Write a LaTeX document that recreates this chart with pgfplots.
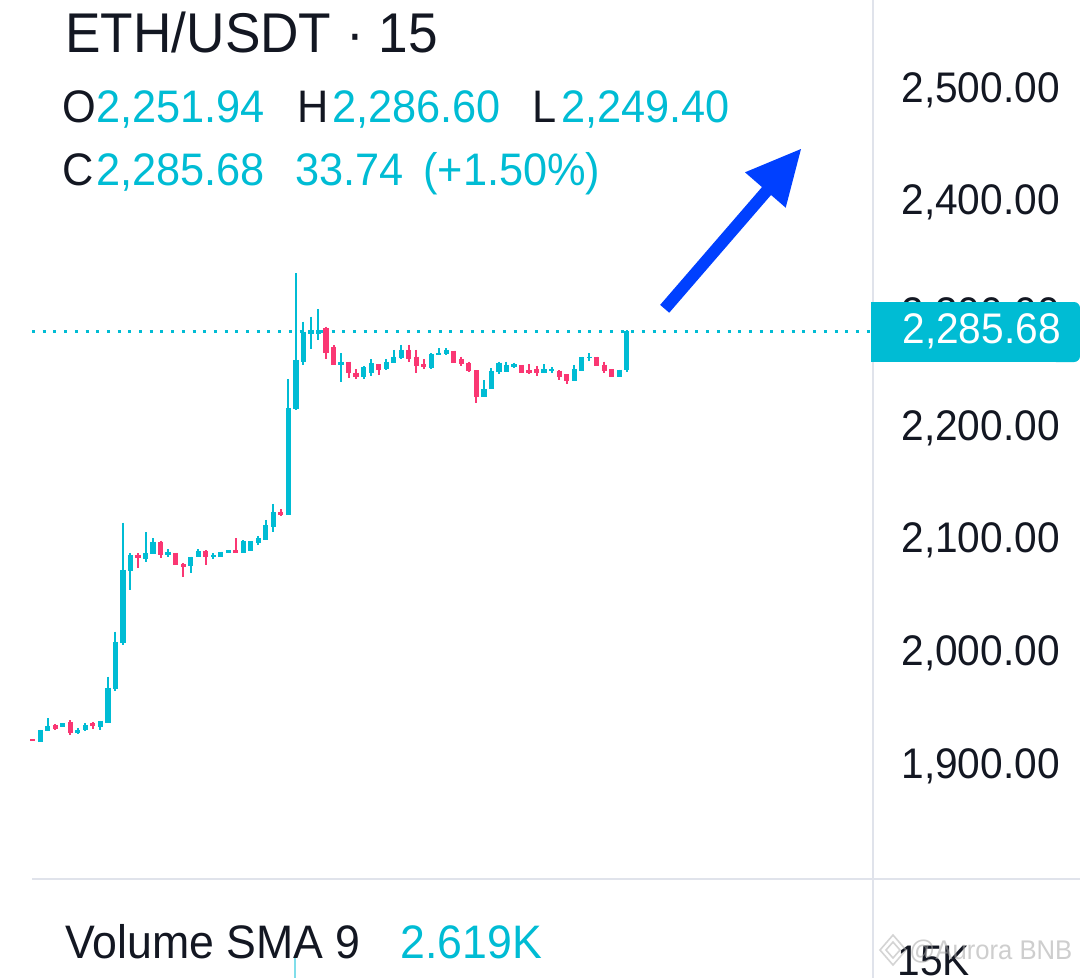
\documentclass[border=0pt]{standalone}
\usepackage{pgfplots}
\pgfplotsset{compat=1.18}
\usepackage{pgfplotstable}
\usepackage{fontspec}
\setmainfont{Liberation Sans}[FakeStretch=0.95]
\definecolor{upc}{RGB}{0,188,212}
\definecolor{dnc}{RGB}{250,55,115}
\definecolor{txt}{RGB}{19,23,34}
\definecolor{sep}{RGB}{224,227,235}
\definecolor{arr}{RGB}{0,64,255}
\newcommand\fs[1]{\fontsize{#1bp}{#1bp}\selectfont}

% up (cyan) candles: index, open, high, low, close
\pgfplotstableread{
i O H L C
2 1921.6 1932.0 1921.6 1932.0
3 1931.1 1942.3 1931.1 1935.8
5 1934.4 1937.9 1934.4 1937.9
7 1929.6 1933.8 1928.2 1932.0
8 1932.0 1937.9 1931.3 1936.1
10 1934.9 1940.2 1932.0 1940.2
11 1938.4 1979.3 1938.4 1969.5
12 1968.3 2019.2 1966.9 2010.3
13 2009.4 2116.0 2007.8 2074.0
14 2073.3 2088.8 2056.2 2087.3
16 2083.5 2107.4 2081.3 2088.8
17 2088.2 2102.1 2088.2 2099.1
19 2087.3 2092.6 2085.8 2090.2
22 2077.5 2085.8 2071.0 2085.3
23 2085.3 2092.6 2085.3 2090.8
25 2085.3 2088.8 2083.5 2087.3
26 2085.8 2090.2 2085.8 2090.2
27 2088.8 2091.7 2088.8 2091.7
29 2089.3 2100.6 2089.3 2099.7
30 2091.1 2099.7 2091.1 2099.7
31 2097.7 2104.2 2096.2 2102.1
32 2100.6 2118.4 2100.6 2113.9
33 2112.4 2132.6 2107.5 2125.2
35 2122.8 2243.2 2122.8 2217.5
36 2216.6 2337.3 2216.0 2260.4
37 2258.9 2294.4 2256.0 2285.5
38 2283.4 2298.8 2269.9 2287.0
39 2283.4 2305.4 2278.1 2287.0
42 2256.0 2266.3 2241.1 2258.9
45 2245.6 2255.1 2243.3 2253.9
46 2248.6 2261.0 2246.2 2257.4
48 2252.1 2261.0 2251.5 2258.9
49 2258.0 2269.3 2257.4 2263.3
50 2261.9 2273.7 2261.0 2269.3
54 2253.0 2266.3 2252.1 2265.4
55 2264.8 2270.8 2264.8 2266.9
56 2265.4 2270.8 2264.8 2269.3
61 2227.8 2242.6 2227.8 2234.4
62 2234.4 2253.0 2234.4 2250.9
63 2250.0 2258.9 2247.9 2258.0
64 2250.0 2258.9 2250.0 2256.0
65 2254.4 2258.0 2253.0 2256.6
69 2249.1 2256.8 2249.1 2252.1
70 2251.0 2253.9 2249.1 2252.1
73 2242.0 2256.0 2242.0 2252.1
74 2250.9 2263.3 2250.9 2262.8
75 2261.9 2266.3 2259.8 2263.3
79 2245.0 2251.9 2245.0 2251.9
80 2251.94 2286.60 2249.40 2285.68
}\up

% down (pink) candles
\pgfplotstableread{
i O H L C
1 1923.7 1923.7 1921.9 1921.9
4 1936.4 1937.3 1931.7 1932.6
6 1939.3 1940.8 1927.5 1929.6
9 1937.9 1939.3 1933.1 1935.5
15 2087.3 2088.8 2076.0 2084.4
18 2099.1 2100.0 2084.4 2087.3
20 2089.3 2089.3 2078.4 2078.4
21 2079.0 2079.9 2067.5 2076.9
24 2090.8 2091.7 2078.4 2085.3
28 2091.7 2102.1 2088.8 2088.8
34 2125.7 2128.1 2121.8 2122.8
40 2288.5 2290.0 2261.0 2266.3
41 2272.2 2273.5 2256.0 2256.0
43 2258.9 2258.9 2244.1 2248.6
44 2249.1 2252.1 2243.3 2245.0
47 2256.8 2256.8 2247.1 2251.5
51 2269.3 2273.7 2258.9 2261.0
52 2263.3 2269.3 2249.1 2255.1
53 2256.8 2261.0 2252.1 2253.9
57 2268.6 2268.6 2257.4 2257.4
58 2261.0 2263.3 2255.1 2256.8
59 2257.4 2258.9 2250.0 2250.9
60 2251.5 2251.5 2222.5 2227.8
66 2256.0 2256.0 2248.6 2249.1
67 2251.5 2256.8 2247.9 2249.1
68 2252.1 2255.1 2246.2 2249.1
71 2250.9 2251.5 2242.6 2245.0
72 2247.9 2247.9 2239.1 2242.0
76 2262.8 2263.3 2255.1 2255.1
77 2256.0 2258.9 2248.6 2250.9
78 2252.1 2252.1 2245.0 2245.0
}\dn

\begin{document}
\begin{tikzpicture}[x=0.5bp,y=-0.5bp]
\fill[white] (0,0) rectangle (1080,978);
\useasboundingbox (0,0) rectangle (1080,978);
% separators
\draw[sep, line width=1.2bp] (873,0) -- (873,978);
\draw[sep, line width=1.2bp] (32,879) -- (1080,879);

\begin{axis}[at={(16bp,0bp)}, anchor=north west, scale only axis,
  width=420.5bp, height=439.5bp,
  xmin=0.907, xmax=112.74, ymin=1799.7, ymax=2579.9,
  axis line style={draw=none}, xtick=\empty,
  ytick={1900,2000,...,2500}, yticklabel pos=right,
  major tick length=0pt, tick style={draw=none},
  scaled y ticks=false,
  /pgf/number format/assume math mode=true,
  yticklabel={\pgfmathprintnumber[fixed,fixed zerofill,precision=2,1000 sep={,}]{\tick}},
  yticklabel style={font=\fs{21.4}, text=txt, anchor=west, inner sep=0pt, xshift=14bp},
  clip=false]
\draw[upc, line width=1.5bp, dash pattern=on 1.5bp off 3.85bp] (axis cs:0.907,2285.68) -- (axis cs:112.74,2285.68);
% wicks
\addplot[draw=none, mark=none, error bars/.cd, y dir=minus, y explicit, error mark=none,
  error bar style={draw=upc, line width=1bp}]
  table[x=i, y=H, y error minus expr=\thisrow{H}-\thisrow{L}] {\up};
\addplot[draw=none, mark=none, error bars/.cd, y dir=minus, y explicit, error mark=none,
  error bar style={draw=dnc, line width=1bp}]
  table[x=i, y=H, y error minus expr=\thisrow{H}-\thisrow{L}] {\dn};
% bodies
\addplot[draw=none, mark=none, error bars/.cd, y dir=minus, y explicit, error mark=none,
  error bar style={draw=upc, line width=2.6bp}]
  table[x=i, y=C, y error minus expr={max(\thisrow{C}-\thisrow{O},1.3)}] {\up};
\addplot[draw=none, mark=none, error bars/.cd, y dir=minus, y explicit, error mark=none,
  error bar style={draw=dnc, line width=2.6bp}]
  table[x=i, y=O, y error minus expr={max(\thisrow{O}-\thisrow{C},1.3)}] {\dn};
\end{axis}

% current price tag
\fill[upc] (871,302) rectangle (1068,362);
\fill[upc, rounded corners=3bp] (1050,302) rectangle (1080,362);
\node[anchor=west, inner sep=0pt, text=white, font=\fs{21.4}] at (902,331.5) {2,285.68};

% arrow
\draw[arr, line width=6bp] (664.7,308.8) -- (770,187);
\fill[arr] (801,149) -- (745,172.3) -- (785.7,207.7) -- cycle;

% header texts
\node[anchor=base west, inner sep=0pt, text=txt, font=\fs{28}] at (65,52) {ETH/USDT · 15};
\begin{scope}[every node/.style={anchor=base west, inner sep=0pt, font=\fs{22.8}}]
\node[text=txt] at (62,122.7) {O};
\node[text=upc] at (96,122.7) {2,251.94};
\node[text=txt] at (297,122.7) {H};
\node[text=upc] at (332,122.7) {2,286.60};
\node[text=txt] at (532,122.7) {L};
\node[text=upc] at (561,122.7) {2,249.40};
\node[text=txt] at (62,185) {C};
\node[text=upc] at (96,185) {2,285.68};
\node[text=upc] at (295,185) {33.74};
\node[text=upc] at (423,185) {(+1.50\%)};
\end{scope}

% volume pane
\draw[upc!50, line width=1bp] (295,955) -- (295,978);
\node[anchor=base west, inner sep=0pt, text=txt, font=\fs{23.5}] at (65,958) {Volume SMA 9};
\node[anchor=base west, inner sep=0pt, text=upc, font=\fs{23.5}] at (400,958) {2.619K};
\node[anchor=base west, inner sep=0pt, text=txt, font=\fs{21.4}] at (897,975) {15K};
% watermark
\begin{scope}[opacity=0.55]
\draw[gray!60, line width=0.8bp] (893,935) -- (906,950) -- (893,965) -- (880,950) -- cycle;
\draw[gray!60, line width=0.8bp] (893,942) -- (900,950) -- (893,958) -- (886,950) -- cycle;
\node[anchor=base west, inner sep=0pt, text=gray!70, font=\fs{13.5}] at (909,959) {@Aurora BNB};
\end{scope}
\end{tikzpicture}
\end{document}
